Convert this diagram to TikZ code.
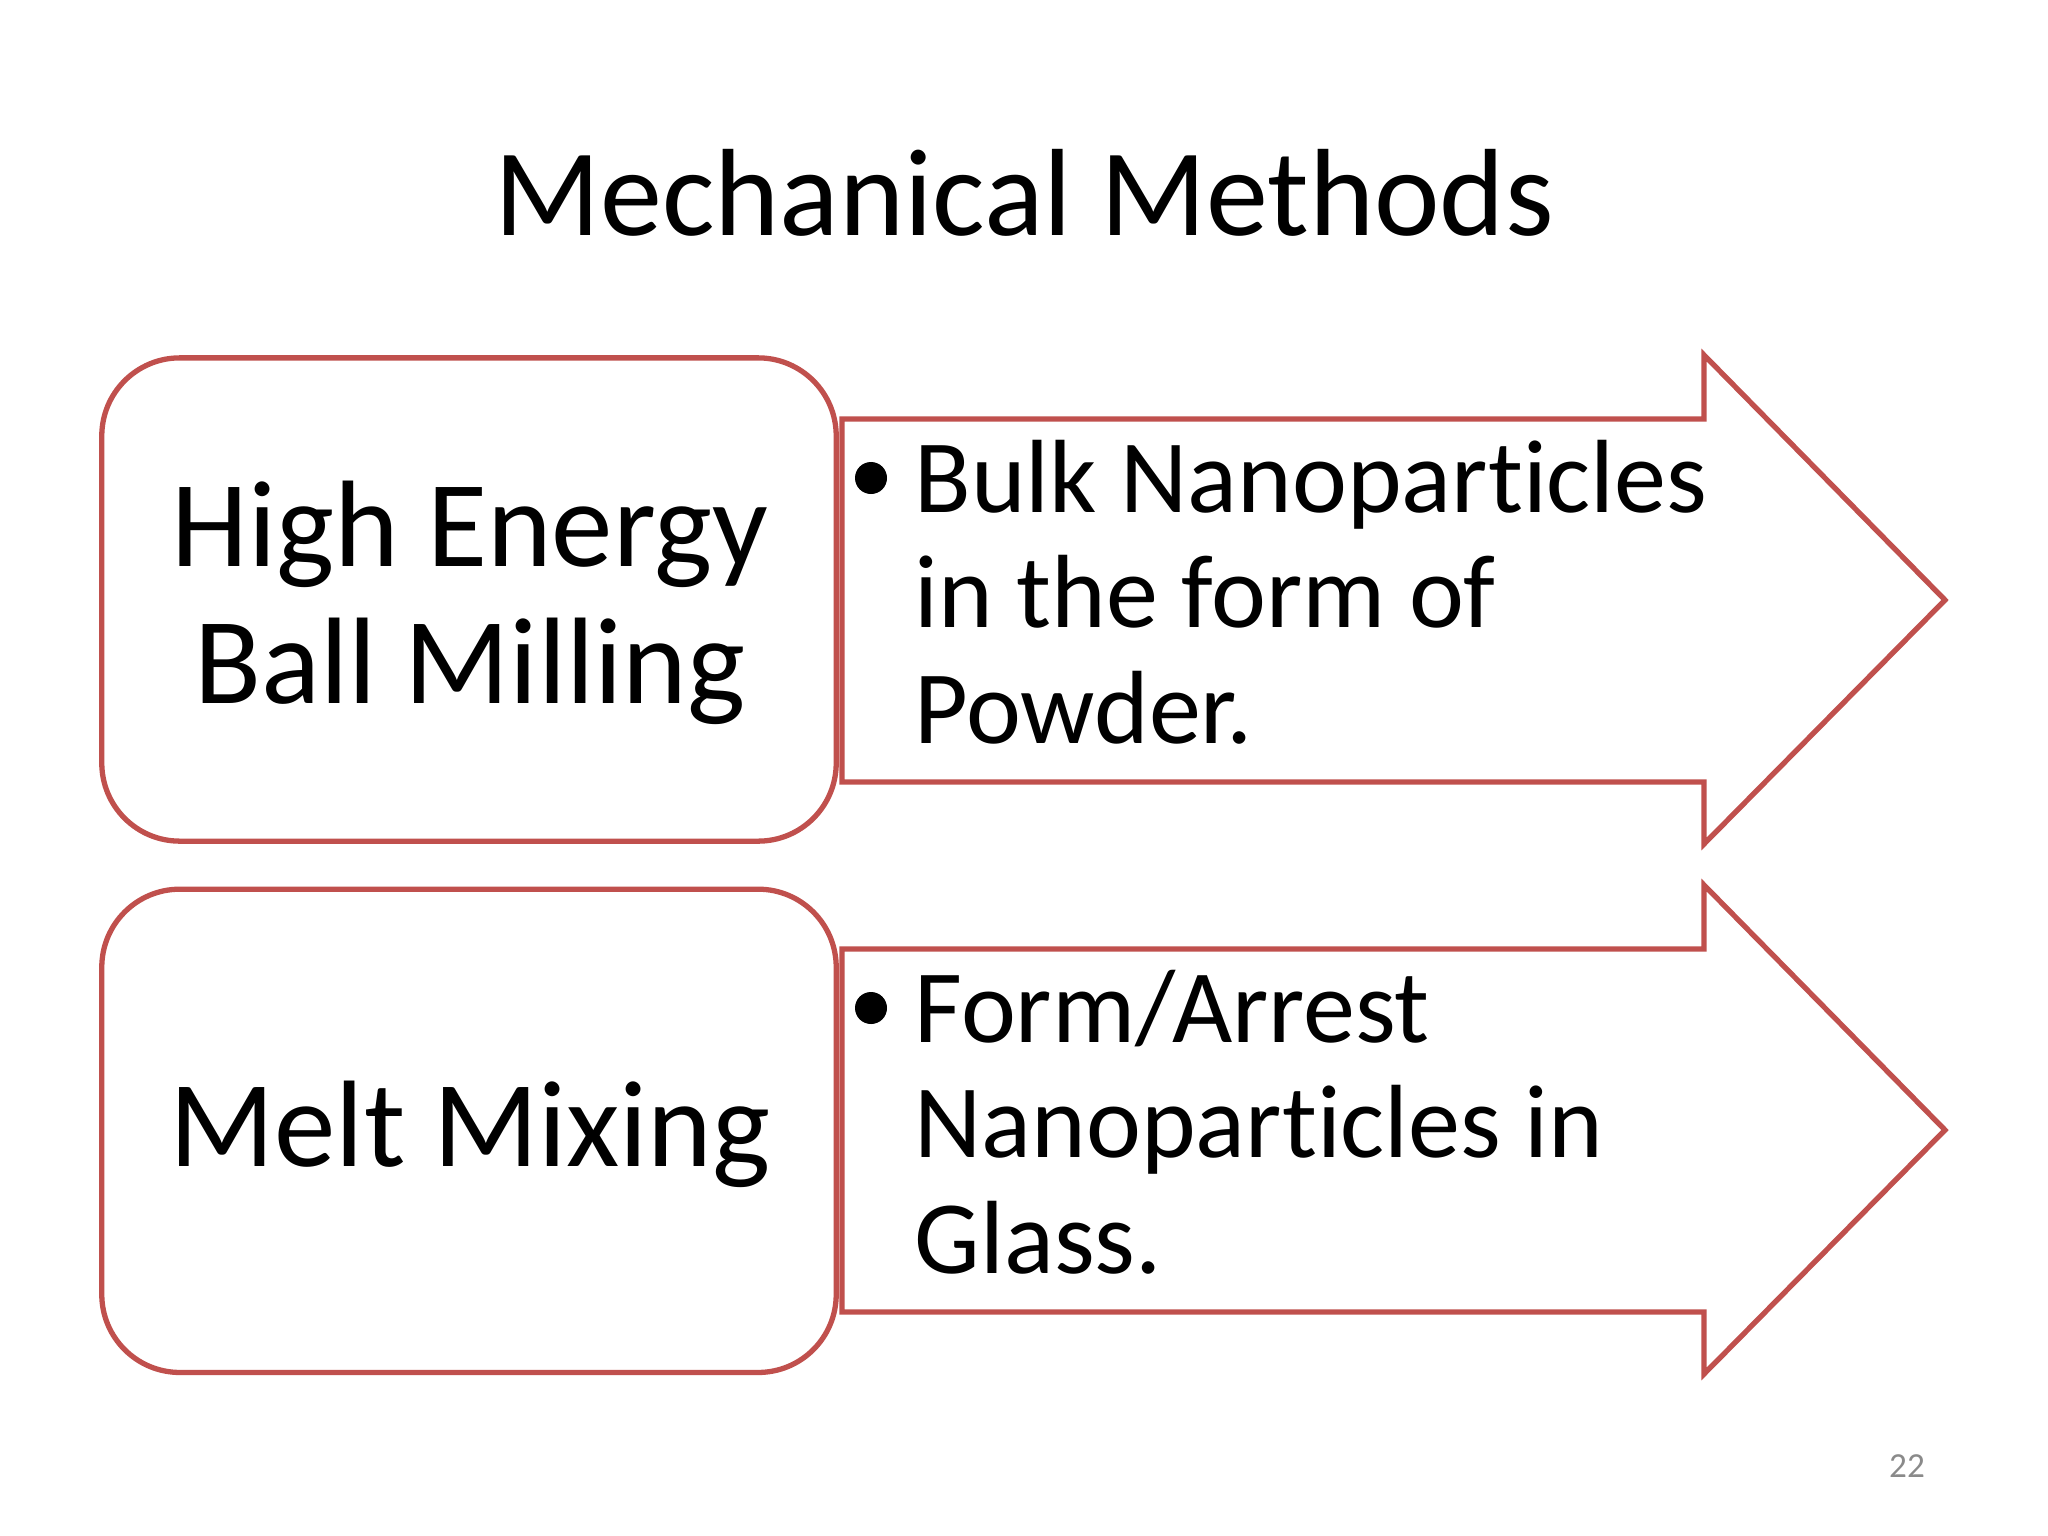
\documentclass[tikz,border=0pt]{standalone}
\usepackage{fontspec}
\setmainfont{Carlito}[Ligatures={NoCommon}]
\usetikzlibrary{positioning}
\definecolor{accred}{HTML}{C0504D}
\definecolor{pagegray}{HTML}{8A8A8A}

\begin{document}
\begin{tikzpicture}[
  x=0.01cm, y=-0.01cm,
  method/.style={draw=accred, fill=white, line width=1.5pt,
                 rounded corners=0.78cm, minimum width=7.34cm,
                 minimum height=4.83cm, outer sep=0pt, inner sep=0pt},
  flow/.style={draw=accred, fill=white, line width=1.5pt},
  headline/.style={inner sep=0pt, anchor=base,
                   font=\fontsize{35.3pt}{39pt}\selectfont},
  lbl/.style={inner sep=0pt, anchor=base,
              font=\fontsize{35pt}{39pt}\selectfont},
  item/.style={inner sep=0pt, anchor=base west,
               font=\fontsize{29.6pt}{32.9pt}\selectfont},
  dot/.style={circle, fill=black, minimum size=0.32cm, inner sep=0pt},
]
\useasboundingbox (0,0) rectangle (2048,1536);
\node[headline] (title) at (1024,235) {Mechanical Methods};

% arrows first, the boxes go over their left ends
\draw[flow] (842,419) -- (1704,419) -- (1704,355) -- (1945,600)
  -- (1704,844) -- (1704,782) -- (842,782) -- cycle;
\draw[flow] (842,949) -- (1704,949) -- (1704,885) -- (1945,1130)
  -- (1704,1374) -- (1704,1312) -- (842,1312) -- cycle;

\node[method] (box1) at (469,599.5) {};
\node[method, below=0.48cm of box1] (box2) {};

\node[lbl] (mill) at (470,566)
  {\parbox[t]{7cm}{\centering High Energy\\Ball Milling}};
\node[lbl] (melt) at (470,1166) {Melt Mixing};

\node[dot] (dot1) at (871,478) {};
\node[item] (out1) at (914,512)
  {\parbox[t]{9cm}{\raggedright Bulk Nanoparticles\\in the form of\\Powder.}};
\node[dot] (dot2) at (871,1008) {};
\node[item] (out2) at (914,1042)
  {\parbox[t]{9cm}{\raggedright Form/Arrest\\Nanoparticles in\\Glass.}};

\node[inner sep=0pt, anchor=base, text=pagegray,
  font=\fontsize{10pt}{12pt}\selectfont] (pgno) at (1907,1477) {22};
\end{tikzpicture}
\end{document}
